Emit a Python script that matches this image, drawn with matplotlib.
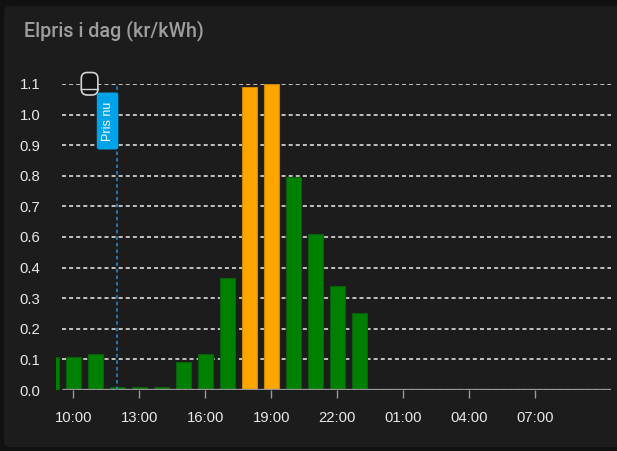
import matplotlib
matplotlib.use("Agg")
import matplotlib.pyplot as plt
from matplotlib.patches import FancyBboxPatch
from matplotlib.transforms import Affine2D
from matplotlib.lines import Line2D

plt.rcParams['lines.scale_dashes'] = False

# ---- data ----
hours = [9, 10, 11, 12, 13, 14, 15, 16, 17, 18, 19, 20, 21, 22, 23]
prices = [0.118, 0.117, 0.128, 0.011, 0.011, 0.011, 0.100, 0.128, 0.403,
          1.089, 1.100, 0.766, 0.561, 0.374, 0.276]
high_threshold = 1.0
tick_hours = [10, 13, 16, 19, 22, 25, 28, 31]
tick_labels = ["10:00", "13:00", "16:00", "19:00", "22:00", "01:00", "04:00", "07:00"]
ytick_values = [k * 0.11 for k in range(11)]
ytick_labels = ["0.0", "0.1", "0.2", "0.3", "0.4", "0.6", "0.7", "0.8", "0.9", "1.0", "1.1"]
now_hour = 12.0
title = "Elpris i dag (kr/kWh)"
now_label = "Pris nu"

W, H = 617, 451
fig = plt.figure(figsize=(W / 100, H / 100), dpi=100)
fig.patch.set_facecolor("#111111")

# pixel transform (x right, y down from top)
px = Affine2D().scale(1 / W, -1 / H).translate(0, 1) + fig.transFigure

card = FancyBboxPatch((4, 6), 640, 441, boxstyle="round,pad=0,rounding_size=6",
                      transform=px, facecolor="#1c1c1c", edgecolor="none", zorder=-10)
fig.patches.append(card)

fig.text(24, 36, title, transform=px, fontsize=14.2, color="#9e9e9e",
         family="Roboto", fontweight="medium", ha="left", va="baseline", zorder=1)

x0, x1 = 9.2, 34.45
left_px = 73.3 - (10 - x0) * 22
right_px = 73.3 + (x1 - 10) * 22
top_px, bot_px = 84, 390
ax = fig.add_axes([left_px / W, 1 - bot_px / H, (right_px - left_px) / W, (bot_px - top_px) / H])
ax.set_facecolor("none")
ax.set_zorder(1)
ax.set_xlim(x0, x1)
ax.set_ylim(0, 1.1)
for s in ax.spines.values():
    s.set_visible(False)

line_start = 9.49
# grid lines
for yv in ytick_values[1:]:
    ax.hlines(yv, line_start, x1, colors="#cfcfcf", linewidth=1.3,
              linestyles=(0, (2.9, 2.2)), zorder=1)
# bottom axis
ax.hlines(0, line_start, x1, colors="#8e8e8e", linewidth=2.4, zorder=3)
ax.hlines(0, line_start, x1, colors="#cfcfcf", linewidth=1.0,
          linestyles=(0, (2.9, 2.2)), zorder=3.1)

colors = ["#ffa500" if p >= high_threshold else "#008000" for p in prices]
edges = ["#c98700" if p >= high_threshold else "#0b5e0b" for p in prices]
ax.bar(hours, prices, width=0.68, color=colors, edgecolor=edges, linewidth=0.8, zorder=2)

# ticks
ax.set_xticks(tick_hours)
ax.set_xticklabels(tick_labels, fontsize=10.7, color="#e8e8e8", family="Liberation Sans")
ax.tick_params(axis="x", length=6, width=1, color="#9a9a9a", pad=9)
ax.set_yticks(ytick_values)
ax.set_yticklabels(ytick_labels, fontsize=10.7, color="#e8e8e8", family="Liberation Sans")
ax.tick_params(axis="y", length=0, pad=11)

# now line
ax.vlines(now_hour, 0, 1.1, colors="#2b8fd0", linewidth=1.1,
          linestyles=(0, (2.5, 2.2)), zorder=4)

# now label box (pixel offsets relative to the now line)
fig.canvas.draw()
nx, ny = ax.transData.transform((now_hour, 1.1))
nx_px = nx
ny_px = H - ny
box = FancyBboxPatch((nx_px - 20.5, ny_px + 8.5), 21.5, 57,
                     boxstyle="round,pad=0,rounding_size=2.5", transform=px,
                     facecolor="#00a3e8", edgecolor="none", zorder=5)
fig.patches.append(box)
fig.text(nx_px - 9.5, ny_px + 37, now_label, transform=px, rotation=90,
         fontsize=9.0, color="white", family="Liberation Sans",
         ha="center", va="center", zorder=6)

# marker at top of axis
mx, my = nx_px - 27.7, ny_px
mk = FancyBboxPatch((mx - 8.3, my - 11.5), 16.6, 22.5,
                    boxstyle="round,pad=0,rounding_size=6", transform=px,
                    facecolor="#141414", edgecolor="#d4d4d4", linewidth=1.2, zorder=5)
fig.patches.append(mk)
fig.lines.append(Line2D([mx - 8.3, mx + 8.3], [my + 5.5, my + 5.5], transform=px,
                        color="#d4d4d4", linewidth=1.0, zorder=6))

fig.savefig("out.png", dpi=100, facecolor=fig.get_facecolor())
